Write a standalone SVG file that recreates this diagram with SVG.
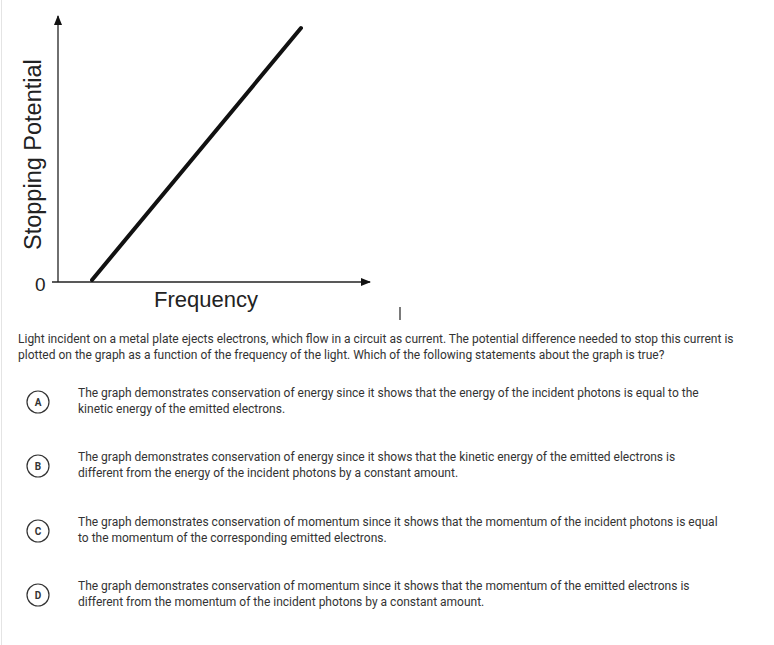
<svg xmlns="http://www.w3.org/2000/svg" width="774" height="645" viewBox="0 0 774 645">
<style>
.t{font-family:Roboto,"Liberation Sans",sans-serif;font-size:12px;fill:#333}
.l{font-family:"Liberation Sans",Arial,sans-serif;fill:#222}
.c{fill:#fff;stroke:#333;stroke-width:1.2}
.cl{font-family:Roboto,"Liberation Sans",sans-serif;font-size:10px;font-weight:bold;fill:#333;text-anchor:middle}
</style>
<defs><marker id="ar" markerWidth="10" markerHeight="8" refX="9" refY="4" orient="auto" markerUnits="userSpaceOnUse"><path d="M0,0L10,4L0,8z" fill="#111"/></marker></defs>
<rect width="774" height="645" fill="#fff"/>
<line x1="1.5" y1="0" x2="1.5" y2="645" stroke="#e4e4e4"/>
<g id="connectors">
<line x1="58" y1="282" x2="58" y2="16" stroke="#222" stroke-width="1.3" marker-end="url(#ar)"/>
<line x1="52" y1="282" x2="370" y2="282" stroke="#222" stroke-width="1.3" marker-end="url(#ar)"/>
<line x1="92" y1="280" x2="301" y2="28" stroke="#111" stroke-width="4" stroke-linecap="round"/>
</g>
<g id="labels">
<text class="l" x="0" y="0" font-size="23.5" transform="translate(41,250) rotate(-90)">Stopping Potential</text>
<text class="l" x="35" y="291" font-size="19">0</text>
<text class="l" x="206" y="307" font-size="22" text-anchor="middle">Frequency</text>
<line x1="400" y1="307" x2="400" y2="320" stroke="#222" stroke-width="1.2"/>
</g>
<g id="question">
<text class="t" x="18" y="343">Light incident on a metal plate ejects electrons, which flow in a circuit as current. The potential difference needed to stop this current is</text>
<text class="t" x="18" y="359">plotted on the graph as a function of the frequency of the light. Which of the following statements about the graph is true?</text>
</g>
<g id="optA"><circle class="c" cx="38" cy="402" r="11"/><text class="cl" x="38" y="405.5">A</text>
<text class="t" x="78" y="397">The graph demonstrates conservation of energy since it shows that the energy of the incident photons is equal to the</text>
<text class="t" x="78" y="413">kinetic energy of the emitted electrons.</text></g>
<g id="optB"><circle class="c" cx="38" cy="466" r="11"/><text class="cl" x="38" y="469.5">B</text>
<text class="t" x="78" y="461">The graph demonstrates conservation of energy since it shows that the kinetic energy of the emitted electrons is</text>
<text class="t" x="78" y="477">different from the energy of the incident photons by a constant amount.</text></g>
<g id="optC"><circle class="c" cx="38" cy="531" r="11"/><text class="cl" x="38" y="534.5">C</text>
<text class="t" x="78" y="526">The graph demonstrates conservation of momentum since it shows that the momentum of the incident photons is equal</text>
<text class="t" x="78" y="542">to the momentum of the corresponding emitted electrons.</text></g>
<g id="optD"><circle class="c" cx="38" cy="595" r="11"/><text class="cl" x="38" y="598.5">D</text>
<text class="t" x="78" y="590">The graph demonstrates conservation of momentum since it shows that the momentum of the emitted electrons is</text>
<text class="t" x="78" y="606">different from the momentum of the incident photons by a constant amount.</text></g>
</svg>
